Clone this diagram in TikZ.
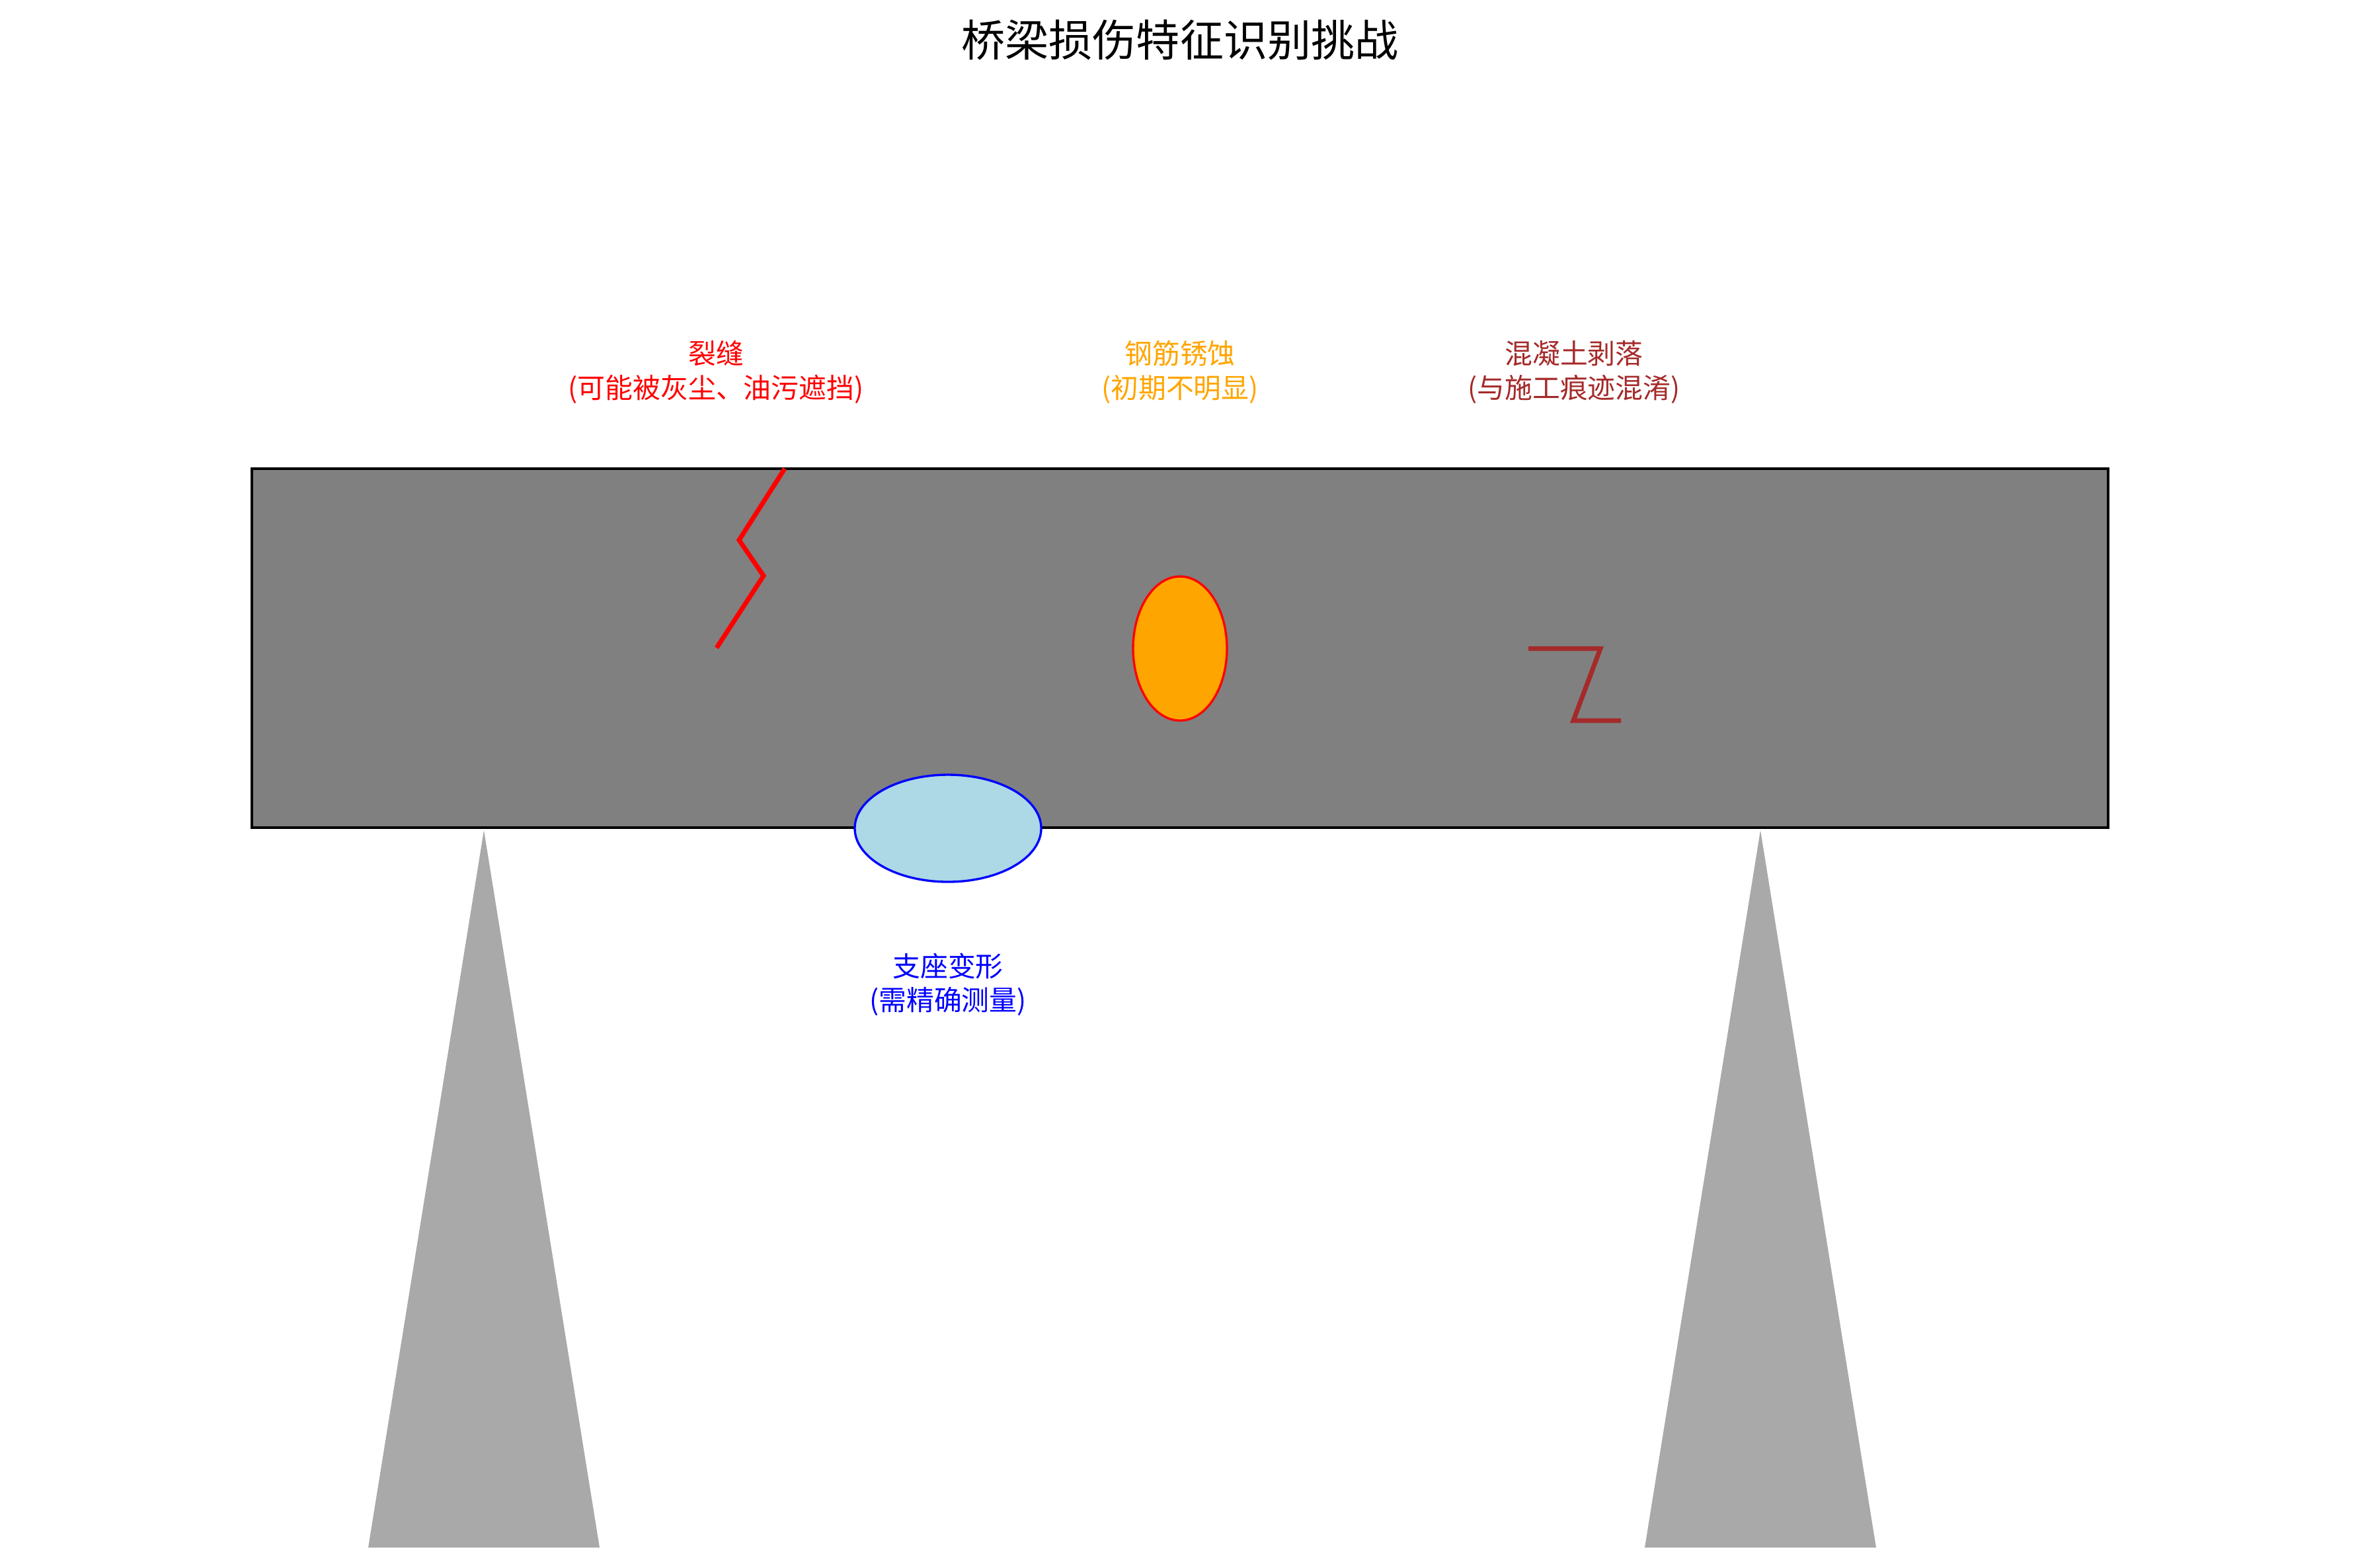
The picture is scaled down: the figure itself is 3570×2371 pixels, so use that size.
\documentclass[tikz,border=0pt]{standalone}
\usepackage{fontspec}
\setmainfont{Noto Sans CJK SC}
\usetikzlibrary{positioning}

\definecolor{beamgray}{HTML}{808080}
\definecolor{piergray}{HTML}{A9A9A9}
\definecolor{rustorange}{HTML}{FFA500}
\definecolor{spallbrown}{HTML}{A52A2A}
\definecolor{bearingblue}{HTML}{ADD8E6}

\tikzset{
  damagelabel/.style={font=\fontsize{11.9}{14.6}\selectfont, align=center, inner sep=0pt},
}

\begin{document}
\begin{tikzpicture}[x=0.01cm, y=-0.01cm]
\useasboundingbox (0,0) rectangle (3570,2371);

% Title
\node [anchor=base, font=\fontsize{18.8}{22}\selectfont] (title) at (1785,85) {桥梁损伤特征识别挑战};

% The beam
\draw [line width=1pt, fill=beamgray] (381,709) rectangle (3189,1252);

% Piers
\fill [piergray] (732,1256) -- (907,2341) -- (557,2341) -- cycle;
\fill [piergray] (2663,1256) -- (2838,2341) -- (2488,2341) -- cycle;

% Crack
\draw [line width=2pt, red] (1187,709) -- (1118,817) -- (1155,871) -- (1084,980);
\node [damagelabel, text=red] (cracklabel) at (1083,563) {裂缝\\(可能被灰尘、油污遮挡)};

% Rebar corrosion
\draw [line width=0.95pt, red, fill=rustorange] (1785,981) ellipse [x radius=71, y radius=109];
\node [damagelabel, text=rustorange] (rustlabel) at (1785,563) {钢筋锈蚀\\(初期不明显)};

% Concrete spalling
\draw [line width=2pt, spallbrown] (2312,981) -- (2421,981) -- (2380,1090) -- (2452,1090);
\node [damagelabel, text=spallbrown] (spalllabel) at (2381,563) {混凝土剥落\\(与施工痕迹混淆)};

% Bearing deformation
\draw [line width=0.95pt, blue, fill=bearingblue] (1434,1253) ellipse [x radius=141, y radius=81];
\node [damagelabel, text=blue] (bearinglabel) at (1434,1489) {支座变形\\(需精确测量)};

\end{tikzpicture}
\end{document}
